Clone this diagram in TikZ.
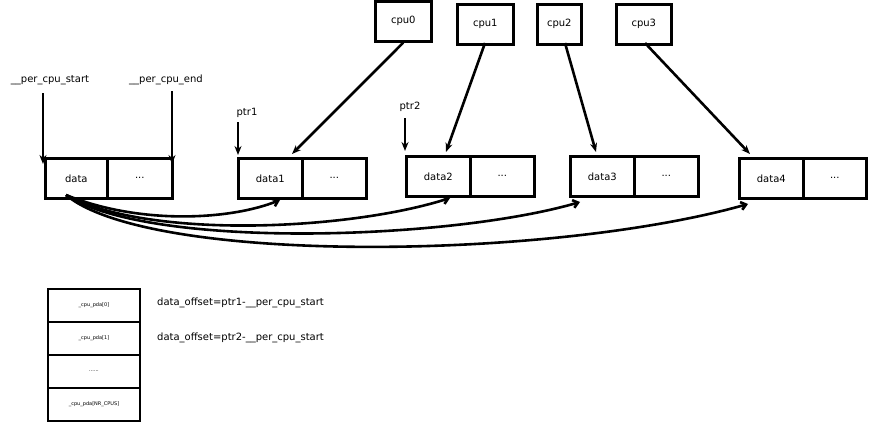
\documentclass[tikz,border=0pt]{standalone}
\usepackage{fontspec}
\setmainfont{DejaVu Sans}
\usetikzlibrary{arrows.meta}
\begin{document}
\begin{tikzpicture}[x=1pt,y=-1pt,
  box/.style={draw,line width=2.6pt,minimum height=40pt,inner sep=0pt,anchor=north west,font=\fontsize{10}{12}\selectfont},
  cell/.style={draw,line width=2pt,minimum width=92pt,minimum height=33pt,inner sep=0pt,anchor=north west,font=\fontsize{5}{6}\selectfont},
  lbl/.style={font=\fontsize{10}{12}\selectfont,inner sep=0pt},
  arr/.style={line width=2.6pt,-{Stealth[length=9pt,width=7pt]}},
  carr/.style={line width=2.6pt,-{Straight Barb[length=5pt,width=8pt]}}]
\useasboundingbox (0,0) rectangle (870,423);
% cpu boxes
\node[box,minimum width=56pt] (c0) at (374,0) {cpu0};
\node[box,minimum width=56pt] (c1) at (456,3) {cpu1};
\node[box,minimum width=44pt] (c2) at (536,3) {cpu2};
\node[box,minimum width=55pt] (c3) at (615,3) {cpu3};
% data boxes
\node[box,minimum width=62pt] (d0) at (44,157) {data};
\node[box,minimum width=65pt] (e0) at (106,157) {...};
\node[box,minimum width=64pt] (d1) at (237,157) {data1};
\node[box,minimum width=64pt] (e1) at (301,157) {...};
\node[box,minimum width=64pt] (d2) at (405,155) {data2};
\node[box,minimum width=64pt] (e2) at (469,155) {...};
\node[box,minimum width=64pt] (d3) at (569,155) {data3};
\node[box,minimum width=64pt] (e3) at (633,155) {...};
\node[box,minimum width=64pt] (d4) at (738,157) {data4};
\node[box,minimum width=63pt] (e4) at (802,157) {...};
% cpu arrows
\draw[arr] (c0.south) -- (292,154);
\draw[arr] (485,43) -- (446,152);
\draw[arr] (565,43) -- (596,152);
\draw[arr] (645,43) -- (750,154);
% labels
\node[lbl] (ls) at (50,80) {\_\_per\_cpu\_start};
\node[lbl] (le) at (166,80) {\_\_per\_cpu\_end};
\node[lbl] (p1) at (247,113) {ptr1};
\node[lbl] (p2) at (410,107) {ptr2};
\draw[arr] (43,93) -- (43,164);
\draw[arr] (172,91) -- (172,164);
\draw[arr] (238,122) -- (238,155);
\draw[arr] (405,118) -- (405,151);
% curved arrows
\coordinate (s) at (66,195);
\draw[carr] (s) .. controls (140,225) and (230,220) .. (280,200);
\draw[carr] (s) .. controls (150,240) and (350,230) .. (450,198);
\draw[carr] (s) .. controls (150,250) and (450,240) .. (580,202);
\draw[carr] (s) .. controls (150,265) and (550,260) .. (748,204);
% table
\node[cell] (t0) at (47,288) {\_cpu\_pda[0]};
\node[cell] (t1) at (47,321) {\_cpu\_pda[1]};
\node[cell] (t2) at (47,354) {......};
\node[cell] (t3) at (47,387) {\_cpu\_pda[NR\_CPUS]};
\node[lbl,anchor=west] (o1) at (157,303) {data\_offset=ptr1-\_\_per\_cpu\_start};
\node[lbl,anchor=west] (o2) at (157,338) {data\_offset=ptr2-\_\_per\_cpu\_start};
\end{tikzpicture}
\end{document}
